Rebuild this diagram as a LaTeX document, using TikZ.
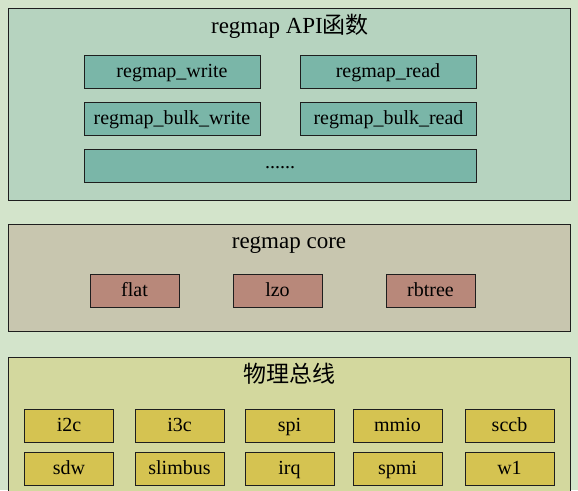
\documentclass[tikz,border=0pt]{standalone}
\usepackage{fontspec}
\setmainfont{Liberation Serif}
\newfontfamily\cjk{Noto Sans CJK SC}
\usetikzlibrary{positioning}
\definecolor{PageGreen}{HTML}{D3E4CB}
\definecolor{ApiLayer}{HTML}{B6D3BF}
\definecolor{ApiTeal}{HTML}{7AB6A8}
\definecolor{CoreLayer}{HTML}{C8C6AF}
\definecolor{CoreBrown}{HTML}{B8887A}
\definecolor{BusLayer}{HTML}{D3D89E}
\definecolor{BusYellow}{HTML}{D5C351}
\definecolor{EdgeDark}{HTML}{1E1E1E}

\begin{document}
\begin{tikzpicture}[x=1pt,y=-1pt,
    layer/.style={draw=EdgeDark,line width=0.8pt},
    title/.style={anchor=base,font=\fontsize{23}{25}\selectfont},
    cell/.style={draw=EdgeDark,line width=1pt,minimum height=33pt,inner sep=0pt,
      text height=16pt,text depth=5pt,font=\fontsize{20}{22}\selectfont},
    apicell/.style={cell,fill=ApiTeal,minimum width=176pt},
    corecell/.style={cell,fill=CoreBrown,minimum width=89pt},
    buscell/.style={cell,fill=BusYellow,minimum width=89pt}]
  \path[use as bounding box,fill=PageGreen] (0,0) rectangle (578,490);
  \clip (0,0) rectangle (578,490);
  % the three layers
  \draw[layer,fill=ApiLayer] (8,8) rectangle (570,200);
  \draw[layer,fill=CoreLayer] (8,224) rectangle (570,331);
  \draw[layer,fill=BusLayer] (8,357) rectangle (570,500);
  % regmap API
  \node[title] (apiTitle) at (290,33) {regmap API{\cjk 函数}};
  \node[apicell] (write) at (172,72) {regmap\_write};
  \node[apicell] (read) at (388,72) {regmap\_read};
  \node[apicell] (bulkWrite) at (172,119) {regmap\_bulk\_write};
  \node[apicell] (bulkRead) at (388.5,119) {regmap\_bulk\_read};
  \node[cell,fill=ApiTeal,minimum width=392pt,text height=9pt] (more) at (280,166) {......};
  % regmap core
  \node[title] (coreTitle) at (289,248) {regmap core};
  \node[corecell] (flat) at (134.5,290.5) {flat};
  \node[corecell] (lzo) at (277.5,290.5) {lzo};
  \node[corecell] (rbtree) at (430.5,290.5) {rbtree};
  % physical buses
  \node[title] (busTitle) at (289,382) {\cjk 物理总线};
  \foreach \name/\xc/\yc in {i2c/69/426,i3c/179.5/426,spi/289.5/426,mmio/397.5/426,sccb/509.5/426,
      sdw/69/468.5,slimbus/179.5/468.5,irq/289.5/468.5,spmi/397.5/468.5,w1/509.5/468.5}
    \node[buscell] (\name) at (\xc,\yc) {\name};
\end{tikzpicture}
\end{document}
